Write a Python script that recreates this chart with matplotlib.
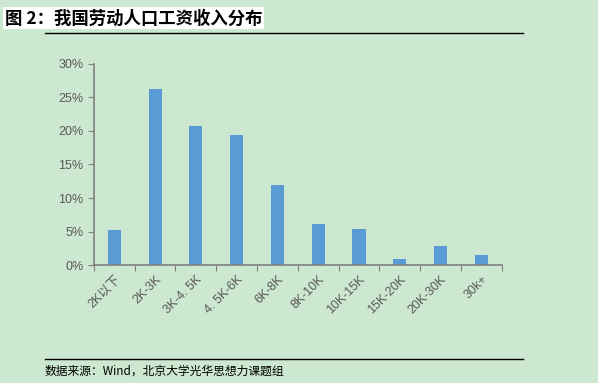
import matplotlib.pyplot as plt
from matplotlib.ticker import FuncFormatter

plt.rcParams['font.family'] = ['Liberation Sans', 'Noto Sans CJK SC']

# income bands and share of workforce (%)
categories = ['2K以下', '2K-3K', '3K-4. 5K', '4. 5K-6K', '6K-8K', '8K-10K',
              '10K-15K', '15K-20K', '20K-30K', '30k+']
shares = [5.2, 26.2, 20.7, 19.4, 11.9, 6.1, 5.4, 0.9, 2.8, 1.5]

bg = '#cde8d0'
grey = '#808080'
cjk = ['Noto Sans CJK SC', 'DejaVu Sans']

fig = plt.figure(figsize=(5.98, 3.83), dpi=100)
fig.patch.set_facecolor(bg)

ax = fig.add_axes([0.157, 0.308, 0.682, 0.525])
ax.set_facecolor(bg)
x = range(len(categories))
ax.bar(x, shares, width=0.32, color='#5b9bd5')

ax.set_xlim(-0.5, len(categories) - 0.5)
ax.set_ylim(0, 30)
ax.set_yticks([0, 5, 10, 15, 20, 25, 30])
ax.yaxis.set_major_formatter(FuncFormatter(lambda v, p: f'{v:.0f}%'))
ax.set_xticks([i - 0.5 for i in range(len(categories) + 1)], minor=False)
ax.set_xticklabels([])
ax.set_xticks(list(x), minor=True)
ax.set_xticklabels(categories, minor=True, rotation=45, ha='right',
                   rotation_mode='anchor', fontsize=9, color='#595959')
ax.tick_params(axis='x', which='minor', length=0, pad=6)
ax.tick_params(axis='x', which='major', length=4, color=grey)
ax.tick_params(axis='y', length=4, color=grey, labelsize=9, labelcolor='#595959')

for s in ['top', 'right']:
    ax.spines[s].set_visible(False)
for s in ['left', 'bottom']:
    ax.spines[s].set_color(grey)
    ax.spines[s].set_linewidth(1.2)

# header and footer
fig.text(0.008, 0.952, '图 2：我国劳动人口工资收入分布', fontsize=12.5, fontweight='bold',
         color='black', va='center', ha='left', family=cjk,
         bbox=dict(facecolor='white', edgecolor='none', pad=1.5))
fig.add_artist(plt.Line2D([0.075, 0.875], [0.913, 0.913], color='black', lw=1,
                          transform=fig.transFigure))
fig.add_artist(plt.Line2D([0.075, 0.875], [0.063, 0.063], color='black', lw=1,
                          transform=fig.transFigure))
fig.text(0.075, 0.030, '数据来源：Wind，北京大学光华思想力课题组', fontsize=8.5,
         color='black', va='center', ha='left', family=cjk)

fig.savefig('out.png', dpi=100, facecolor=bg)
